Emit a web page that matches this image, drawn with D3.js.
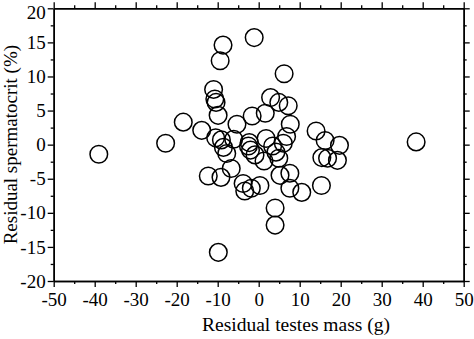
<!DOCTYPE html>
<html><head><meta charset="utf-8">
<script src="https://cdn.jsdelivr.net/npm/d3@7"></script>
<style>body{margin:0;background:#fff}svg{display:block}</style>
</head><body>
<script>
const xTicks = [-50,-40,-30,-20,-10,0,10,20,30,40,50];
const yTicks = [-20,-15,-10,-5,0,5,10,15,20];
const xMinor = [-45,-35,-25,-15,-5,5,15,25,35,45];
const yMinor = [-17.5,-12.5,-7.5,-2.5,2.5,7.5,12.5,17.5];
const xLabel = "Residual testes mass (g)";
const yLabel = "Residual spermatocrit (%)";
const massX = [-39,-22.7,-18.4,-13.9,38.4,-9.85,4.0,4.0,
  -8.7,-9.4,-1.1,6.2,-11.0,-10.7,-10.4,-9.9,
  -5.3,-1.6,1.6,2.9,4.9,7.2,7.7,6.8,1.8,14.0,16.2,19.7,
  -10.5,-9.1,-6.1,-8.6,-7.8,-2.3,-2.5,-2.0,-0.9,1.3,3.4,4.2,4.9,6.0,
  -12.3,-9.2,-6.7,-3.8,-3.4,-1.8,0.3,5.2,7.6,7.6,10.5,15.3,15.4,16.8,19.2];
const spermY = [-1.4,0.2,3.3,2.1,0.4,-15.8,-9.3,-11.8,
  14.6,12.3,15.7,10.4,8.1,6.7,6.2,4.3,
  3.0,4.2,4.6,6.9,6.2,5.7,3.0,1.2,0.9,2.0,0.6,-0.1,
  1.0,0.7,0.8,-0.4,-1.3,0.3,-0.2,-0.8,-1.5,-2.4,-0.2,-1.1,-2.0,0.2,
  -4.6,-4.8,-3.5,-5.7,-6.8,-6.4,-6.0,-4.5,-4.2,-6.4,-7.0,-6.0,-1.9,-2.0,-2.3];

const W = 474, H = 339;
const m = {l:53.7, r:10.3, t:8.3, b:58};
const svg = d3.select("body").append("svg").attr("width",W).attr("height",H);
const x = d3.scaleLinear().domain([-50,50]).range([m.l, W-m.r]);
const y = d3.scaleLinear().domain([-20,20]).range([H-m.b, m.t]);
const font = "'Liberation Serif','Times New Roman',serif";

function styleAxis(g){
  g.selectAll("path,line").attr("stroke","#000").attr("stroke-width",1.3);
  g.selectAll("text").attr("font-family",font).attr("font-size",19).attr("fill","#000");
  g.select(".domain").attr("stroke-width",1.5);
}
const fmt = d => String(d);
// bottom
svg.append("g").attr("transform",`translate(0,${H-m.b})`)
  .call(d3.axisBottom(x).tickValues(xTicks).tickFormat(fmt).tickSize(6).tickSizeOuter(0).tickPadding(6)).call(styleAxis);
svg.append("g").attr("transform",`translate(0,${H-m.b})`)
  .call(d3.axisBottom(x).tickValues(xMinor).tickFormat("").tickSize(3).tickSizeOuter(0)).call(styleAxis);
// top
svg.append("g").attr("transform",`translate(0,${m.t})`)
  .call(d3.axisTop(x).tickValues(xTicks).tickFormat("").tickSize(6).tickSizeOuter(0)).call(styleAxis);
svg.append("g").attr("transform",`translate(0,${m.t})`)
  .call(d3.axisTop(x).tickValues(xMinor).tickFormat("").tickSize(3).tickSizeOuter(0)).call(styleAxis);
// left
const gl = svg.append("g").attr("transform",`translate(${m.l},0)`)
  .call(d3.axisLeft(y).tickValues(yTicks).tickFormat(fmt).tickSize(6).tickSizeOuter(0).tickPadding(2)).call(styleAxis);
gl.selectAll(".tick text").filter(d => d === 20).attr("dy","0.55em");
svg.append("g").attr("transform",`translate(${m.l},0)`)
  .call(d3.axisLeft(y).tickValues(yMinor).tickFormat("").tickSize(3).tickSizeOuter(0)).call(styleAxis);
// right
svg.append("g").attr("transform",`translate(${W-m.r},0)`)
  .call(d3.axisRight(y).tickValues(yTicks).tickFormat("").tickSize(6).tickSizeOuter(0)).call(styleAxis);
svg.append("g").attr("transform",`translate(${W-m.r},0)`)
  .call(d3.axisRight(y).tickValues(yMinor).tickFormat("").tickSize(3).tickSizeOuter(0)).call(styleAxis);

// points
svg.append("g").selectAll("circle").data(massX.map((v,i)=>[v,spermY[i]])).join("circle")
  .attr("cx",d=>x(d[0])).attr("cy",d=>y(d[1])).attr("r",8.8)
  .attr("fill","none").attr("stroke","#000").attr("stroke-width",1.5);

// titles
svg.append("text").attr("x",296).attr("y",331).attr("text-anchor","middle")
  .attr("font-family",font).attr("font-size",19.5).text(xLabel);
svg.append("text").attr("transform",`translate(17,${(m.t+H-m.b)/2}) rotate(-90)`).attr("text-anchor","middle")
  .attr("font-family",font).attr("font-size",19).text(yLabel);
</script>
</body></html>
